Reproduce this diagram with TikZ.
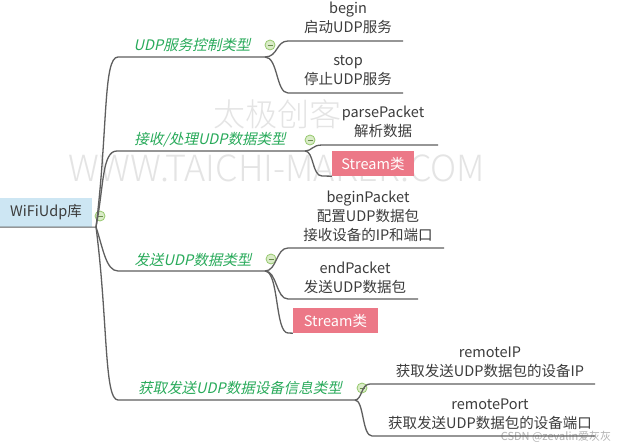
\documentclass[tikz,border=0pt]{standalone}
\usepackage{fontspec}
\setmainfont{Noto Sans CJK SC}
\newfontfamily\cjk{Noto Sans CJK SC}
\newfontfamily\cjkit[FakeSlant=0.22]{Noto Sans CJK SC}
\newfontfamily\cjklight{Noto Sans CJK SC Light}
\definecolor{txt}{RGB}{60,60,60}
\definecolor{ln}{RGB}{95,95,95}
\definecolor{grn}{RGB}{40,170,90}
\definecolor{rootfill}{RGB}{205,230,243}
\definecolor{pink}{RGB}{236,120,135}
\definecolor{cfill}{RGB}{218,236,200}
\definecolor{cdraw}{RGB}{150,200,110}
\definecolor{wm}{RGB}{228,228,228}
\begin{document}
\begin{tikzpicture}[x=1pt,y=-1pt,
  conn/.style={draw=ln,line width=1.3pt},
  leaf/.style={text=txt,align=center,inner sep=0pt,font=\cjk\fontsize{14.5}{19}\selectfont},
  cat/.style={text=grn,inner sep=0pt,font=\cjkit\fontsize{14.5}{19}\selectfont},
  streambox/.style={fill=pink,text=white,minimum width=82pt,minimum height=25pt,inner sep=0pt,font=\cjk\fontsize{14.5}{19}\selectfont},
  rootbox/.style={fill=rootfill,text=txt,minimum width=92pt,minimum height=29pt,inner sep=0pt,font=\cjk\fontsize{14.5}{19}\selectfont},
  coll/.style={circle,fill=cfill,draw=cdraw,line width=0.8pt,minimum size=10pt,inner sep=0pt,
    path picture={\draw[cdraw!70!black,line width=0.8pt] ([xshift=-2.5pt]path picture bounding box.center) -- ([xshift=2.5pt]path picture bounding box.center);}},
  wmark/.style={text=wm,inner sep=0pt}
]
\useasboundingbox (0,0) rectangle (618,444);
\fill[white] (0,0) rectangle (618,444);
% watermarks
\node[wmark,font=\cjklight\fontsize{32}{36}\selectfont] (wm1) at (277,114) {太极创客};
\node[wmark,font=\cjklight\fontsize{36}{40}\selectfont] (wm2) at (277,168) {WWW.TAICHI-MAKER.COM};
% root
\node[rootbox] (root) at (46,212.5) {WiFiUdp库};
\node[coll] (c0) at (100,216) {};
\coordinate (r0) at (96,227);
% branch 1
\node[cat] (b1) at (192,45) {UDP服务控制类型};
\node[coll] (c1) at (270,45) {};
\coordinate (b1L) at (118,57); \coordinate (b1R) at (265,57);
\node[leaf] (begin) at (348,18) {begin\\启动UDP服务};
\coordinate (beginL) at (288,41); \coordinate (beginR) at (403,41);
\node[leaf] (stop) at (348,71) {stop\\停止UDP服务};
\coordinate (stopL) at (288,93); \coordinate (stopR) at (403,93);
% branch 2
\node[cat] (b2) at (210,140) {接收/处理UDP数据类型};
\node[coll] (c2) at (310,140) {};
\coordinate (b2L) at (117,151); \coordinate (b2R) at (305,151);
\node[leaf] (parse) at (383,122) {parsePacket\\解析数据};
\coordinate (parseL) at (322,145); \coordinate (parseR) at (438,145);
\node[streambox] (s1) at (373,163.5) {Stream类};
\coordinate (s1L) at (322,176);
% branch 3
\node[cat] (b3) at (193,260) {发送UDP数据类型};
\node[coll] (c3) at (271,259) {};
\coordinate (b3L) at (118,271); \coordinate (b3R) at (265,271);
\node[leaf] (bp) at (368,216) {beginPacket\\配置UDP数据包\\接收设备的IP和端口};
\coordinate (bpL) at (288,248); \coordinate (bpR) at (444,248);
\node[leaf] (ep) at (355,278) {endPacket\\发送UDP数据包};
\coordinate (epL) at (288,299); \coordinate (epR) at (418,299);
\node[streambox,minimum width=85pt] (s2) at (335.5,320.5) {Stream类};
\coordinate (s2L) at (288,333);
% branch 4
\node[cat] (b4) at (240,388) {获取发送UDP数据设备信息类型};
\node[coll] (c4) at (362,388) {};
\coordinate (b4L) at (118,400); \coordinate (b4R) at (355,400);
\node[leaf] (rip) at (490,362) {remoteIP\\获取发送UDP数据包的设备IP};
\coordinate (ripL) at (370,384); \coordinate (ripR) at (595,384);
\node[leaf] (rport) at (490,414) {remotePort\\获取发送UDP数据包的设备端口};
\coordinate (rportL) at (372,436); \coordinate (rportR) at (595,436);
% CSDN watermark
\node[inner sep=0pt,text=black!30,font=\cjk\fontsize{11}{12}\selectfont] (csdn) at (556,437) {CSDN @zevalin爱灰灰};
% connectors from root
\draw[conn] (r0) .. controls (108,130) and (103,57) .. (b1L) -- (b1R);
\draw[conn] (r0) .. controls (104,185) and (102,151) .. (b2L) -- (b2R);
\draw[conn] (r0) .. controls (103,248) and (106,271) .. (b3L) -- (b3R);
\draw[conn] (r0) .. controls (108,320) and (104,400) .. (b4L) -- (b4R);
% branch 1 children
\draw[conn] (b1R) .. controls (278,57) and (276,41) .. (beginL) -- (beginR);
\draw[conn] (b1R) .. controls (278,57) and (276,93) .. (stopL) -- (stopR);
% branch 2 children
\draw[conn] (b2R) .. controls (312,151) and (312,145) .. (parseL) -- (parseR);
\draw[conn] (b2R) .. controls (314,151) and (312,176) .. (s1L) -- (s1.south west);
% branch 3 children
\draw[conn] (b3R) .. controls (277,271) and (276,248) .. (bpL) -- (bpR);
\draw[conn] (b3R) .. controls (277,271) and (276,299) .. (epL) -- (epR);
\draw[conn] (b3R) .. controls (279,271) and (275,333) .. (s2L) -- (s2.south west);
% branch 4 children
\draw[conn] (b4R) .. controls (362,400) and (361,384) .. (ripL) -- (ripR);
\draw[conn] (b4R) .. controls (364,400) and (362,436) .. (rportL) -- (rportR);
% root underline
\draw[conn,line width=1pt] (root.south west) -- (r0);
\end{tikzpicture}
\end{document}
